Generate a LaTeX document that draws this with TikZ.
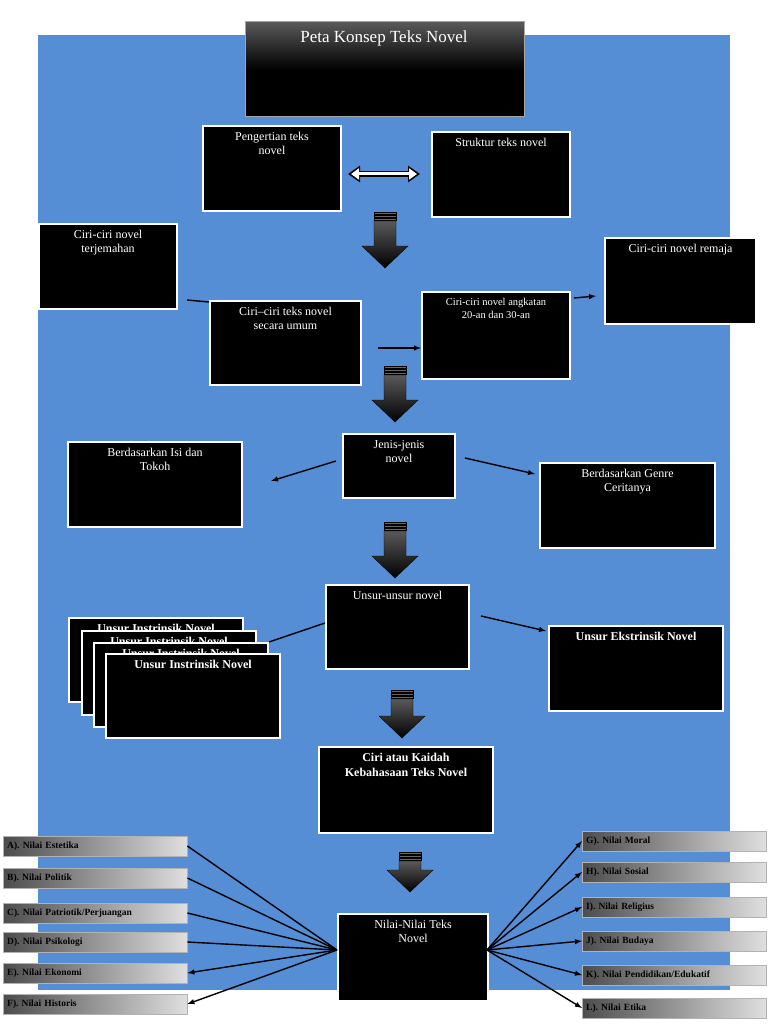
\documentclass[tikz,border=0pt]{standalone}
\usepackage{fontspec}
\setmainfont{Liberation Serif}
\usetikzlibrary{positioning, arrows.meta}
\definecolor{bgblue}{HTML}{558ED5}
\tikzset{
  box/.style={draw=white, line width=2pt, fill=black, anchor=north west, inner sep=0pt},
  txt/.style={text=white, align=center, font=\fontsize{12}{14}\selectfont, below=4pt},
  lbl/.style={draw=gray!60, left color=gray!60!black, right color=gray!25, anchor=west,
    minimum width=184, minimum height=20, inner sep=0pt, text width=176,
    font=\fontsize{9.5}{11}\bfseries\selectfont},
  con/.style={black, line width=1.4pt},
  pics/down/.style={code={
    \foreach \s in {0,3,6} \draw[fill=gray!80!black, draw=black] (-11,\s) rectangle (11,\s+2);
    \shade[top color=gray!70!black, bottom color=black, draw=black] (-11,9) -- (11,9) -- (11,#1-22) -- (23,#1-22)
      -- (0,#1) -- (-23,#1-22) -- (-11,#1-22) -- cycle;
  }}
}
\begin{document}
\begin{tikzpicture}[x=1pt, y=-1pt, >=latex]
  \useasboundingbox (0,0) rectangle (768,1024);
  \fill[bgblue] (38,35) rectangle (730,990);
  % title
  \shade[top color=gray!70!black, bottom color=black, middle color=black] (245,22) rectangle (524,117);
  \draw[gray!70, line width=1pt] (245,22) rectangle (524,117);
  \node[text=white, font=\fontsize{17}{20}\selectfont] (title) at (384,38) {Peta Konsep Teks Novel};
  % boxes
  \node[box, minimum width=138, minimum height=85] (pengertian) at (202,125) {};
  \node[txt] at (pengertian.north) {Pengertian teks\\novel};
  \node[box, minimum width=138, minimum height=85] (struktur) at (431,131) {};
  \node[txt] at (struktur.north) {Struktur teks novel};
  \node[box, minimum width=138, minimum height=85] (terjemahan) at (38,223) {};
  \node[txt] at (terjemahan.north) {Ciri-ciri novel\\terjemahan};
  \node[box, minimum width=151, minimum height=84] (umum) at (209,300) {};
  \node[txt] at (umum.north) {Ciri--ciri teks novel\\secara umum};
  \node[box, minimum width=148, minimum height=87] (angkatan) at (421,291) {};
  \node[txt, font=\fontsize{10.5}{13}\selectfont] at (angkatan.north) {Ciri-ciri novel angkatan\\20-an dan 30-an};
  \node[box, minimum width=151, minimum height=86] (remaja) at (604,237) {};
  \node[txt] at (remaja.north) {Ciri-ciri novel remaja};
  \node[box, minimum width=112, minimum height=64] (jenis) at (342,433) {};
  \node[txt] at (jenis.north) {Jenis-jenis\\novel};
  \node[box, minimum width=174, minimum height=85] (isi) at (67,441) {};
  \node[txt] at (isi.north) {Berdasarkan Isi dan\\Tokoh};
  \node[box, minimum width=175, minimum height=85] (genre) at (539,462) {};
  \node[txt] at (genre.north) {Berdasarkan Genre\\Ceritanya};
  \node[box, minimum width=143, minimum height=84] (unsur) at (325,584) {};
  \node[txt] at (unsur.north) {Unsur-unsur novel};
  \foreach \dx/\dy [count=\i] in {68/617, 81/630, 93/642, 105/653} {
    \node[box, minimum width=174, minimum height=84] (intr\i) at (\dx,\dy) {};
    \node[txt, font=\fontsize{12}{14}\bfseries\selectfont] at (intr\i.north) {Unsur Instrinsik Novel};
  }
  \node[box, minimum width=174, minimum height=85] (ekstr) at (548,625) {};
  \node[txt, font=\fontsize{12}{14}\bfseries\selectfont] at (ekstr.north) {Unsur Ekstrinsik Novel};
  \node[box, minimum width=174, minimum height=86] (kaidah) at (318,746) {};
  \node[txt, font=\fontsize{12}{15}\bfseries\selectfont] at (kaidah.north) {Ciri atau Kaidah\\Kebahasaan Teks Novel};
  \node[box, minimum width=150, minimum height=87] (nilai) at (337,913) {};
  \node[txt] at (nilai.north) {Nilai-Nilai Teks\\Novel};
  % block arrows
  \pic at (385,212) {down=56};
  \pic at (395,366) {down=56};
  \pic at (395,522) {down=56};
  \pic at (402,690) {down=48};
  \pic at (410,852) {down=40};
  % double arrow
  \coordinate (dl) at (348,174); \coordinate (dr) at (420,174);
  \draw[black, line width=6pt, {Triangle[length=12pt,width=16pt]}-{Triangle[length=12pt,width=16pt]}] (dl) -- (dr);
  \draw[white, line width=3pt, {Triangle[length=8pt,width=11pt]}-{Triangle[length=8pt,width=11pt]}] ([xshift=3pt]dl) -- ([xshift=-3pt]dr);
  % connectors
  \coordinate (a1) at (187,300);
  \draw[con] (a1) -- (209,302);
  \coordinate (a2) at (378,348);
  \draw[con, ->] (a2) -- (421,348);
  \draw[con, ->] (angkatan.north east) ++(3,7) -- ++(22,-2);
  \coordinate (a3) at (271,481);
  \draw[con, ->] (336,461) -- (a3);
  \coordinate (a4) at (535,474);
  \draw[con, ->] (465,458) -- (a4);
  \draw[con] (intr3.north east) -- (325,623);
  \coordinate (a5) at (546,631);
  \draw[con, ->] (481,616) -- (a5);
  % values
  \foreach \y/\t [count=\i] in {846/{A). Nilai Estetika}, 878/{B). Nilai Politik}, 913/{C). Nilai Patriotik/Perjuangan},
      942/{D). Nilai Psikologi}, 973/{E). Nilai Ekonomi}, 1004/{F). Nilai Historis}}
    \node[lbl] (l\i) at (3,\y) {\t};
  \foreach \y/\t [count=\i] in {841/{G). Nilai Moral}, 872/{H). Nilai Sosial}, 907/{I). Nilai Religius},
      941/{J). Nilai Budaya}, 975/{K). Nilai Pendidikan/Edukatif}, 1008/{L). Nilai Etika}}
    \node[lbl] (r\i) at (582,\y) {\t};
  \coordinate (nl) at (337,950);
  \coordinate (nr) at (487,950);
  \foreach \i in {1,...,4} \draw[con] (l\i.east) -- (nl);
  \foreach \i in {5,6} \draw[con, ->] (nl) -- (l\i.east);
  \foreach \i in {1,...,6} \draw[con, ->] (nr) -- (r\i.west);
\end{tikzpicture}
\end{document}
